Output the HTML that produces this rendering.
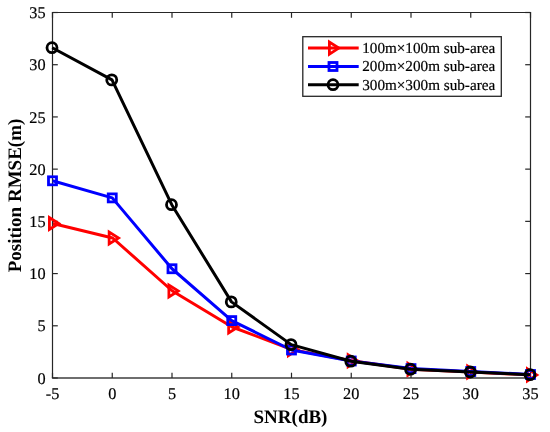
<!DOCTYPE html>
<html><head><meta charset="utf-8"><style>
html,body{margin:0;padding:0;background:#fff;width:550px;height:432px;overflow:hidden}
svg{display:block}
text{text-rendering:geometricPrecision}
.t,.lg{stroke:#000;stroke-width:0.2px}
.t{font-family:"Liberation Serif",serif;font-size:16.3px;fill:#000}
.lg{font-family:"Liberation Serif",serif;font-size:15.2px;fill:#000}
.lab{font-family:"Liberation Serif",serif;font-size:19px;font-weight:bold;fill:#000}
</style></head><body>
<svg width="550" height="432" viewBox="0 0 550 432">
<rect width="550" height="432" fill="#fff"/>
<line x1="51.9" y1="12.5" x2="531.1" y2="12.5" stroke="#262626" stroke-width="1.2"/>
<rect x="51.9" y="377.0" width="479.20" height="2" fill="#6e6e6e"/>
<line x1="52.5" y1="12.5" x2="52.5" y2="378.0" stroke="#262626" stroke-width="1.2"/>
<line x1="530.5" y1="12.5" x2="530.5" y2="378.0" stroke="#262626" stroke-width="1.2"/>
<line x1="52.50" y1="378.0" x2="52.50" y2="372.7" stroke="#262626" stroke-width="1.2"/>
<line x1="52.50" y1="12.5" x2="52.50" y2="17.8" stroke="#262626" stroke-width="1.2"/>
<line x1="112.25" y1="378.0" x2="112.25" y2="372.7" stroke="#262626" stroke-width="1.2"/>
<line x1="112.25" y1="12.5" x2="112.25" y2="17.8" stroke="#262626" stroke-width="1.2"/>
<line x1="172.00" y1="378.0" x2="172.00" y2="372.7" stroke="#262626" stroke-width="1.2"/>
<line x1="172.00" y1="12.5" x2="172.00" y2="17.8" stroke="#262626" stroke-width="1.2"/>
<line x1="231.75" y1="378.0" x2="231.75" y2="372.7" stroke="#262626" stroke-width="1.2"/>
<line x1="231.75" y1="12.5" x2="231.75" y2="17.8" stroke="#262626" stroke-width="1.2"/>
<line x1="291.50" y1="378.0" x2="291.50" y2="372.7" stroke="#262626" stroke-width="1.2"/>
<line x1="291.50" y1="12.5" x2="291.50" y2="17.8" stroke="#262626" stroke-width="1.2"/>
<line x1="351.25" y1="378.0" x2="351.25" y2="372.7" stroke="#262626" stroke-width="1.2"/>
<line x1="351.25" y1="12.5" x2="351.25" y2="17.8" stroke="#262626" stroke-width="1.2"/>
<line x1="411.00" y1="378.0" x2="411.00" y2="372.7" stroke="#262626" stroke-width="1.2"/>
<line x1="411.00" y1="12.5" x2="411.00" y2="17.8" stroke="#262626" stroke-width="1.2"/>
<line x1="470.75" y1="378.0" x2="470.75" y2="372.7" stroke="#262626" stroke-width="1.2"/>
<line x1="470.75" y1="12.5" x2="470.75" y2="17.8" stroke="#262626" stroke-width="1.2"/>
<line x1="530.50" y1="378.0" x2="530.50" y2="372.7" stroke="#262626" stroke-width="1.2"/>
<line x1="530.50" y1="12.5" x2="530.50" y2="17.8" stroke="#262626" stroke-width="1.2"/>
<line x1="52.5" y1="378.00" x2="57.8" y2="378.00" stroke="#262626" stroke-width="1.2"/>
<line x1="530.5" y1="378.00" x2="525.2" y2="378.00" stroke="#262626" stroke-width="1.2"/>
<line x1="52.5" y1="325.79" x2="57.8" y2="325.79" stroke="#262626" stroke-width="1.2"/>
<line x1="530.5" y1="325.79" x2="525.2" y2="325.79" stroke="#262626" stroke-width="1.2"/>
<line x1="52.5" y1="273.57" x2="57.8" y2="273.57" stroke="#262626" stroke-width="1.2"/>
<line x1="530.5" y1="273.57" x2="525.2" y2="273.57" stroke="#262626" stroke-width="1.2"/>
<line x1="52.5" y1="221.36" x2="57.8" y2="221.36" stroke="#262626" stroke-width="1.2"/>
<line x1="530.5" y1="221.36" x2="525.2" y2="221.36" stroke="#262626" stroke-width="1.2"/>
<line x1="52.5" y1="169.14" x2="57.8" y2="169.14" stroke="#262626" stroke-width="1.2"/>
<line x1="530.5" y1="169.14" x2="525.2" y2="169.14" stroke="#262626" stroke-width="1.2"/>
<line x1="52.5" y1="116.93" x2="57.8" y2="116.93" stroke="#262626" stroke-width="1.2"/>
<line x1="530.5" y1="116.93" x2="525.2" y2="116.93" stroke="#262626" stroke-width="1.2"/>
<line x1="52.5" y1="64.71" x2="57.8" y2="64.71" stroke="#262626" stroke-width="1.2"/>
<line x1="530.5" y1="64.71" x2="525.2" y2="64.71" stroke="#262626" stroke-width="1.2"/>
<line x1="52.5" y1="12.50" x2="57.8" y2="12.50" stroke="#262626" stroke-width="1.2"/>
<line x1="530.5" y1="12.50" x2="525.2" y2="12.50" stroke="#262626" stroke-width="1.2"/>
<text x="52.50" y="399.2" text-anchor="middle" class="t">-5</text>
<text x="112.25" y="399.2" text-anchor="middle" class="t">0</text>
<text x="172.00" y="399.2" text-anchor="middle" class="t">5</text>
<text x="231.75" y="399.2" text-anchor="middle" class="t">10</text>
<text x="291.50" y="399.2" text-anchor="middle" class="t">15</text>
<text x="351.25" y="399.2" text-anchor="middle" class="t">20</text>
<text x="411.00" y="399.2" text-anchor="middle" class="t">25</text>
<text x="470.75" y="399.2" text-anchor="middle" class="t">30</text>
<text x="530.50" y="399.2" text-anchor="middle" class="t">35</text>
<text x="45.6" y="383.60" text-anchor="end" class="t">0</text>
<text x="45.6" y="331.39" text-anchor="end" class="t">5</text>
<text x="45.6" y="279.17" text-anchor="end" class="t">10</text>
<text x="45.6" y="226.96" text-anchor="end" class="t">15</text>
<text x="45.6" y="174.74" text-anchor="end" class="t">20</text>
<text x="45.6" y="122.53" text-anchor="end" class="t">25</text>
<text x="45.6" y="70.31" text-anchor="end" class="t">30</text>
<text x="45.6" y="18.10" text-anchor="end" class="t">35</text>
<polyline points="52.90,223.50 112.65,238.00 172.40,291.00 232.15,327.00 291.90,349.60 351.65,360.80 411.40,369.30 471.15,372.00 530.90,374.90" fill="none" stroke="#ff0000" stroke-width="3.0" stroke-linejoin="round" stroke-linecap="butt"/>
<polygon points="49.40,217.50 49.40,229.50 58.80,223.50" fill="none" stroke="#ff0000" stroke-width="2.8" stroke-linejoin="miter"/>
<polygon points="109.15,232.00 109.15,244.00 118.55,238.00" fill="none" stroke="#ff0000" stroke-width="2.8" stroke-linejoin="miter"/>
<polygon points="168.90,285.00 168.90,297.00 178.30,291.00" fill="none" stroke="#ff0000" stroke-width="2.8" stroke-linejoin="miter"/>
<polygon points="228.65,321.00 228.65,333.00 238.05,327.00" fill="none" stroke="#ff0000" stroke-width="2.8" stroke-linejoin="miter"/>
<polygon points="288.40,343.60 288.40,355.60 297.80,349.60" fill="none" stroke="#ff0000" stroke-width="2.8" stroke-linejoin="miter"/>
<polygon points="348.15,354.80 348.15,366.80 357.55,360.80" fill="none" stroke="#ff0000" stroke-width="2.8" stroke-linejoin="miter"/>
<polygon points="407.90,363.30 407.90,375.30 417.30,369.30" fill="none" stroke="#ff0000" stroke-width="2.8" stroke-linejoin="miter"/>
<polygon points="467.65,366.00 467.65,378.00 477.05,372.00" fill="none" stroke="#ff0000" stroke-width="2.8" stroke-linejoin="miter"/>
<polygon points="527.40,368.90 527.40,380.90 536.80,374.90" fill="none" stroke="#ff0000" stroke-width="2.8" stroke-linejoin="miter"/>
<polyline points="52.50,180.80 112.25,197.90 172.00,268.75 231.75,320.60 291.50,350.00 351.25,361.00 411.00,368.60 470.75,371.50 530.50,374.50" fill="none" stroke="#0000ff" stroke-width="3.0" stroke-linejoin="round" stroke-linecap="butt"/>
<rect x="48.50" y="176.80" width="8" height="8" fill="none" stroke="#0000ff" stroke-width="2.8"/>
<rect x="108.25" y="193.90" width="8" height="8" fill="none" stroke="#0000ff" stroke-width="2.8"/>
<rect x="168.00" y="264.75" width="8" height="8" fill="none" stroke="#0000ff" stroke-width="2.8"/>
<rect x="227.75" y="316.60" width="8" height="8" fill="none" stroke="#0000ff" stroke-width="2.8"/>
<rect x="287.50" y="346.00" width="8" height="8" fill="none" stroke="#0000ff" stroke-width="2.8"/>
<rect x="347.25" y="357.00" width="8" height="8" fill="none" stroke="#0000ff" stroke-width="2.8"/>
<rect x="407.00" y="364.60" width="8" height="8" fill="none" stroke="#0000ff" stroke-width="2.8"/>
<rect x="466.75" y="367.50" width="8" height="8" fill="none" stroke="#0000ff" stroke-width="2.8"/>
<rect x="526.50" y="370.50" width="8" height="8" fill="none" stroke="#0000ff" stroke-width="2.8"/>
<polyline points="52.25,47.70 112.00,79.90 171.75,204.70 231.50,301.90 291.25,344.60 351.00,361.20 410.75,369.20 470.50,372.00 530.25,374.70" fill="none" stroke="#000000" stroke-width="3.0" stroke-linejoin="round" stroke-linecap="butt"/>
<circle cx="52.00" cy="47.70" r="5" fill="none" stroke="#000000" stroke-width="2.8"/>
<circle cx="111.75" cy="79.90" r="5" fill="none" stroke="#000000" stroke-width="2.8"/>
<circle cx="171.50" cy="204.70" r="5" fill="none" stroke="#000000" stroke-width="2.8"/>
<circle cx="231.25" cy="301.90" r="5" fill="none" stroke="#000000" stroke-width="2.8"/>
<circle cx="291.00" cy="344.60" r="5" fill="none" stroke="#000000" stroke-width="2.8"/>
<circle cx="350.75" cy="361.20" r="5" fill="none" stroke="#000000" stroke-width="2.8"/>
<circle cx="410.50" cy="369.20" r="5" fill="none" stroke="#000000" stroke-width="2.8"/>
<circle cx="470.25" cy="372.00" r="5" fill="none" stroke="#000000" stroke-width="2.8"/>
<circle cx="530.00" cy="374.70" r="5" fill="none" stroke="#000000" stroke-width="2.8"/>
<text x="290.5" y="423" text-anchor="middle" class="lab">SNR(dB)</text>
<text transform="translate(20.8,195.5) rotate(-90)" x="0" y="0" text-anchor="middle" class="lab">Position RMSE(m)</text>
<rect x="302.8" y="36.7" width="198.50" height="59.60" fill="#ffffff" stroke="#262626" stroke-width="1.3"/>
<line x1="308" y1="48.1" x2="358.7" y2="48.1" stroke="#ff0000" stroke-width="3.0"/>
<polygon points="329.40,42.10 329.40,54.10 338.80,48.10" fill="none" stroke="#ff0000" stroke-width="2.8" stroke-linejoin="miter"/>
<text x="362.2" y="52.6" class="lg">100m×100m sub-area</text>
<line x1="308" y1="66.5" x2="358.7" y2="66.5" stroke="#0000ff" stroke-width="3.0"/>
<rect x="329.00" y="62.50" width="8" height="8" fill="none" stroke="#0000ff" stroke-width="2.8"/>
<text x="362.2" y="71.1" class="lg">200m×200m sub-area</text>
<line x1="308" y1="84.7" x2="358.7" y2="84.7" stroke="#000000" stroke-width="3.0"/>
<circle cx="333.00" cy="84.70" r="5" fill="none" stroke="#000000" stroke-width="2.8"/>
<text x="362.2" y="89.7" class="lg">300m×300m sub-area</text>
</svg>
</body></html>
